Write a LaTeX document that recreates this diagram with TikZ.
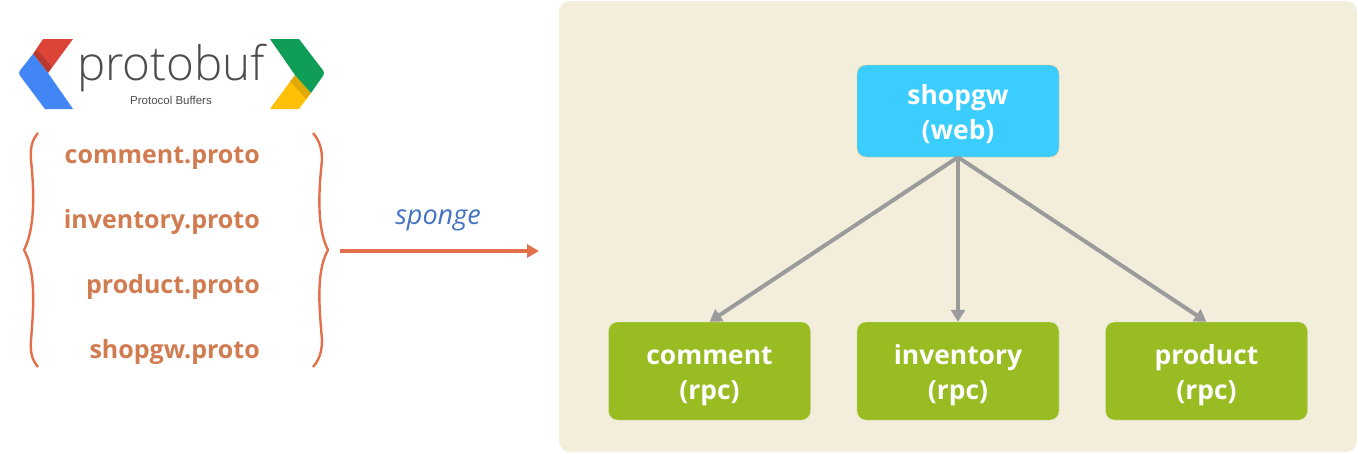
\documentclass[tikz,border=0pt]{standalone}
\usepackage{fontspec}
\setmainfont{Open Sans}
\newfontfamily\logofont{Open Sans Light}
\newfontfamily\capfont{Liberation Sans}
\usetikzlibrary{arrows.meta}
\definecolor{panelbg}{HTML}{F3EEDC}
\definecolor{webblue}{HTML}{3ACDFD}
\definecolor{webedge}{HTML}{F3CB7C}
\definecolor{rpcgreen}{HTML}{98BC22}
\definecolor{prototext}{HTML}{D07B50}
\definecolor{bracecol}{HTML}{E2704A}
\definecolor{linkgrey}{HTML}{9B9B9B}
\definecolor{spongeblue}{HTML}{4472C4}
\definecolor{logored}{HTML}{DB4437}
\definecolor{logoblue}{HTML}{4285F4}
\definecolor{logogreen}{HTML}{0F9D58}
\definecolor{logoyellow}{HTML}{FFC107}
\tikzset{
  svcbox/.style={rounded corners=9pt, minimum width=202pt, inner sep=0pt, align=center,
    text=white, text height=64pt, text depth=8pt, font=\fontsize{26.4}{35}\selectfont\bfseries},
  webbox/.style={svcbox, draw=webedge, fill=webblue, minimum height=92pt},
  rpcbox/.style={svcbox, draw=white!60!rpcgreen, fill=rpcgreen, minimum height=98pt},
  protolabel/.style={anchor=base east, inner sep=0pt, text=prototext, font=\fontsize{25}{28}\selectfont\bfseries},
  bracepath/.style={draw=bracecol, line width=2.4pt},
  link/.style={draw=linkgrey, line width=4pt, -{Triangle[length=12pt,width=14pt]}}
}
\begin{document}
\begin{tikzpicture}[x=1pt,y=-1pt]
    \useasboundingbox (0,0) rectangle (1358,453);

    % Panel
    \fill[panelbg, rounded corners=11pt] (559,1) rectangle (1357,452);

    % Logo, left chevron
    \fill[logored] (43,39) -- (73,39) -- (48,73) -- (33,54) -- cycle;
    \fill[black, opacity=.15] (33,54) -- (37,50) -- (52,67) -- (48,73) -- cycle;
    \fill[logoblue] (33,54) [rounded corners=3pt] -- (18,73) [sharp corners] -- (45,109) -- (73,109) -- (48,73) -- cycle;

    % Logo, right chevron
    \fill[logoyellow] (295,75) -- (311,93) -- (299,109) -- (270,109) -- cycle;
    \fill[black, opacity=.12] (295,75) -- (311,93) -- (306,99) -- (290,81) -- cycle;
    \fill[logogreen] (270,39) -- (299,39) [rounded corners=3pt] -- (325,73) [sharp corners] -- (311,93) -- (295,75) -- cycle;

    % Logo text
    \node[anchor=base, text=black!70, font=\logofont\fontsize{47.5}{50}\selectfont] (logoname) at (171,80) {protobuf};
    \node[anchor=base, text=black!70, font=\capfont\fontsize{11.5}{12}\selectfont] (logocaption) at (171,104) {Protocol Buffers};

    % Proto files
    \foreach \name/\y in {comment/163, inventory/228, product/293, shopgw/358}
      \node[protolabel] (\name proto) at (260,\y) {\name.proto};

    % Braces
    \draw[bracepath] (38,133) .. controls (32,140) and (30,148) .. (31,160) .. controls (33,180) and (37,225) .. (24,250)
       .. controls (37,272) and (33,315) .. (31,340) .. controls (30,352) and (32,360) .. (38,367);
    \draw[bracepath] (313,133) .. controls (319,140) and (322,148) .. (322,160) .. controls (320,180) and (315,225) .. (328,250)
       .. controls (315,272) and (320,315) .. (322,340) .. controls (322,352) and (319,360) .. (313,367);

    % Sponge arrow
    \coordinate (arrowfrom) at (340,251);
    \coordinate (arrowto) at (539,251);
    \draw[draw=bracecol, line width=3.4pt, -{Triangle[length=12pt,width=13pt]}] (arrowfrom) -- (arrowto);
    \node[text=spongeblue, font=\fontsize{27}{30}\selectfont\itshape] (spongelabel) at (438,220) {sponge};

    % Services
    \node[webbox] (shopgw) at (958,111) {shopgw\\(web)};
    \node[rpcbox] (comment) at (709.5,371) {comment\\(rpc)};
    \node[rpcbox] (inventory) at (958,371) {inventory\\(rpc)};
    \node[rpcbox] (product) at (1206.5,371) {product\\(rpc)};

    % Links
    \foreach \target in {comment, inventory, product}
      \draw[link] (shopgw.south) -- (\target.north);

\end{tikzpicture}
\end{document}
